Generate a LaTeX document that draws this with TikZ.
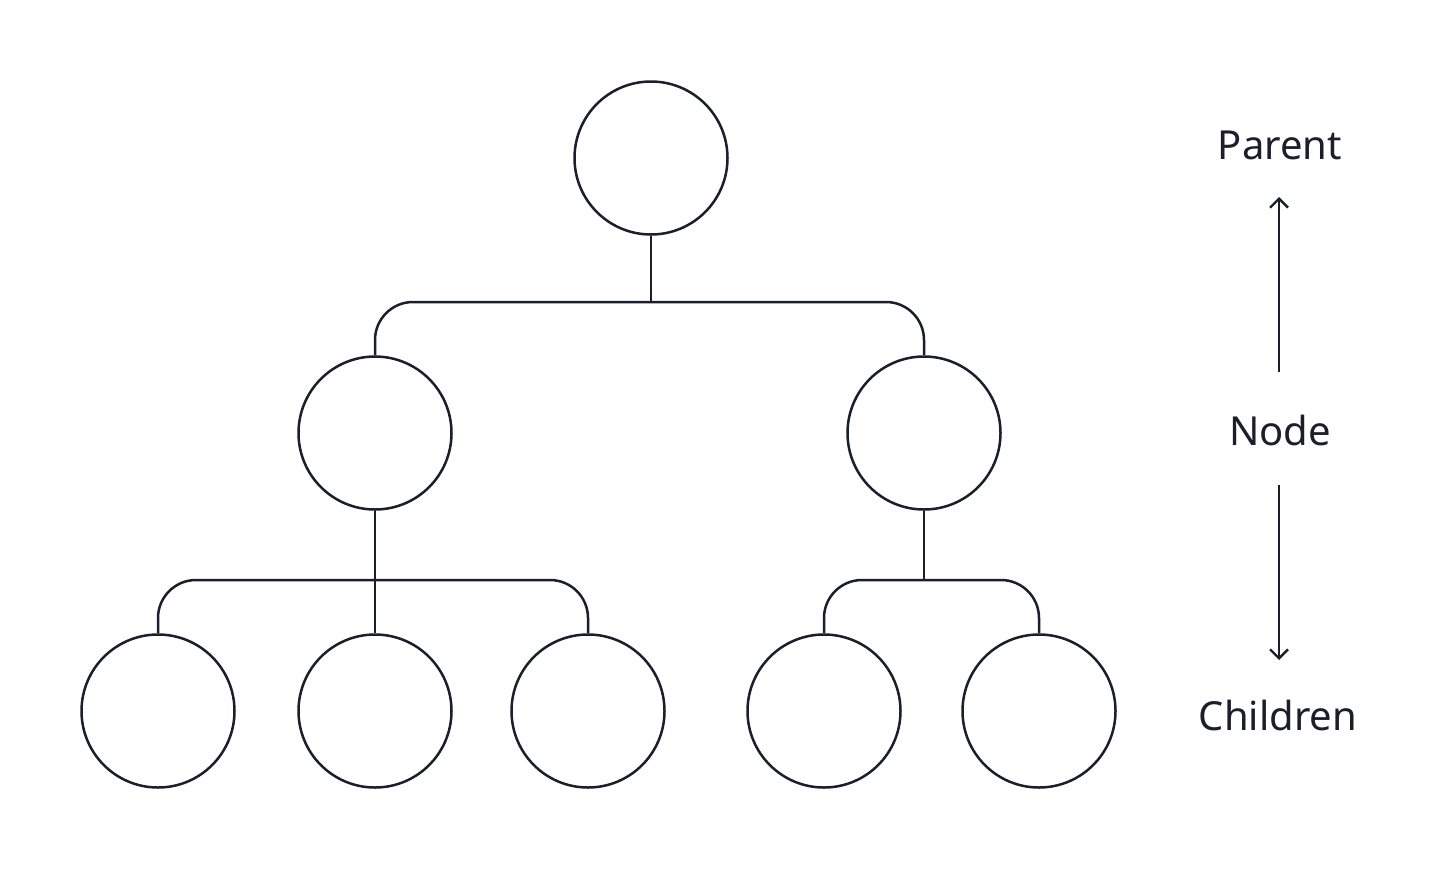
\documentclass[tikz,border=0pt]{standalone}
\usepackage{fontspec}
\setmainfont{Noto Sans}
\usetikzlibrary{arrows.meta}
\definecolor{ink}{HTML}{1B1F2B}
\begin{document}
\begin{tikzpicture}[x=0.5pt,y=-0.5pt,
  treenode/.style={circle,draw=ink,line width=1.25pt,minimum size=76.5pt,inner sep=0pt},
  link/.style={draw=ink,line width=1.25pt,rounded corners=19pt},
  label/.style={text=ink,font=\fontsize{20}{24}\selectfont,inner sep=0pt},
  pointer/.style={draw=ink,line width=1.2pt,-{Straight Barb[length=4.5pt,width=9pt,line width=1.2pt]}}]
\useasboundingbox (0,0) rectangle (1440,869);
\node[treenode] (top) at (651,158) {};
\node[treenode] (m1) at (375,433) {};
\node[treenode] (m2) at (924,433) {};
\node[treenode] (c1) at (158,711) {};
\node[treenode] (c2) at (375,711) {};
\node[treenode] (c3) at (588,711) {};
\node[treenode] (c4) at (824,711) {};
\node[treenode] (c5) at (1039,711) {};
\coordinate (jt) at (651,302);
\coordinate (jl) at (375,580);
\coordinate (jr) at (924,580);
\draw[link] (top.south) -- (jt);
\draw[link] (m1.north) |- (jt);
\draw[link] (m2.north) |- (jt);
\draw[link] (c1.north) |- (jl) -| (c3.north);
\draw[link] (m1.south) -- (c2.north);
\draw[link] (c4.north) |- (jr) -| (c5.north);
\draw[link] (m2.south) -- (jr);
\node[label] (parent) at (1280,145) {Parent};
\node[label] (nd) at (1280,430) {Node};
\node[label] (children) at (1278,715) {Children};
\coordinate (upS) at (1279,372);
\coordinate (upE) at (1279,197);
\coordinate (dnS) at (1279,485);
\coordinate (dnE) at (1279,660);
\draw[pointer] (upS) -- (upE);
\draw[pointer] (dnS) -- (dnE);
\end{tikzpicture}
\end{document}
